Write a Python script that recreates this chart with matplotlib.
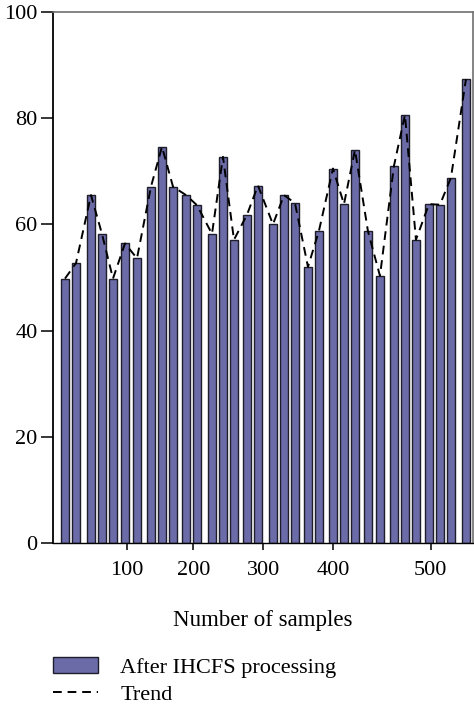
import matplotlib
matplotlib.use('Agg')
import matplotlib.pyplot as plt
from matplotlib.patches import Patch
from matplotlib.lines import Line2D

plt.rcParams['font.family'] = ['Liberation Serif', 'DejaVu Serif']

# bar positions along the sample axis (axis units) and bar heights
positions = [12, 23, 38, 49, 60, 72, 84, 98, 109, 120, 133, 144, 159, 170, 181, 194, 205,
             220, 231, 242, 255, 266, 280, 291, 302, 315, 327, 341, 352, 363, 376, 387, 398, 413]
values = [49.8, 52.7, 65.5, 58.2, 49.8, 56.4, 53.6, 67.1, 74.6, 67.1, 65.5, 63.6, 58.2, 72.7,
          57.1, 61.8, 67.3, 60.0, 65.5, 64.0, 52.0, 58.8, 70.5, 63.8, 74.0, 58.7, 50.3, 71.0,
          80.6, 57.1, 63.8, 63.7, 68.8, 87.3]
tick_pos = [74.3, 140.3, 210.3, 280.3, 377.7]
tick_labels = ['100', '200', '300', '400', '500']

bar_color = '#6b6ba8'
dash = (0, (4.5, 3.0))

fig = plt.figure(figsize=(4.74, 7.10), dpi=100)
ax = fig.add_axes([0.1118, 0.2348, 0.886, 0.7487])

ax.bar(positions, values, width=8.5, color=bar_color, edgecolor='#1e1e2a', linewidth=1.0, zorder=2)
ax.plot(positions, values, color='black', linestyle=dash, linewidth=1.4, zorder=3)

ax.set_xlim(0, 420)
ax.set_ylim(0, 100)
ax.set_yticks([0, 20, 40, 60, 80, 100])
ax.set_xticks(tick_pos)
ax.set_xticklabels(tick_labels)
ax.tick_params(axis='y', length=9, width=1.1, labelsize=16, pad=2)
ax.tick_params(axis='x', length=5, width=1.1, labelsize=16, pad=8)

ax.spines['left'].set_linewidth(1.3)
ax.spines['bottom'].set_linewidth(1.0)
for s in ['top', 'right']:
    ax.spines[s].set_color('#707070')
    ax.spines[s].set_linewidth(1.2)

ax.set_xlabel('Number of samples', fontsize=16.5, labelpad=21)

handles = [Patch(facecolor=bar_color, edgecolor='#1e1e2a', linewidth=1.0),
           Line2D([0], [0], color='black', linestyle=dash, linewidth=1.4)]
fig.legend(handles, ['After IHCFS processing', 'Trend'], loc='upper left',
           bbox_to_anchor=(0.094, 0.087), frameon=False, fontsize=16,
           handlelength=2.0, handletextpad=1.0, labelspacing=0.3, borderaxespad=0)

fig.savefig('out.png', dpi=100, facecolor='white')
